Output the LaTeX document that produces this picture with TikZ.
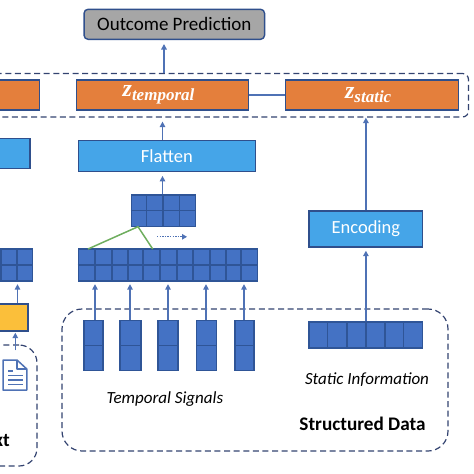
\documentclass[tikz,border=0pt]{standalone}
\usepackage{fontspec}
\setmainfont{Carlito}
\newfontfamily\zfont{Liberation Serif}
\usetikzlibrary{arrows.meta}
\definecolor{edge}{HTML}{2F4F8C}
\definecolor{cell}{HTML}{4472C4}
\definecolor{dcell}{HTML}{2F5597}
\definecolor{lblue}{HTML}{45A5E8}
\definecolor{orng}{HTML}{E47F3C}
\definecolor{yel}{HTML}{FBBF3A}
\definecolor{gry}{HTML}{A6A6A6}
\definecolor{dashc}{HTML}{334370}
\definecolor{arr}{HTML}{4F72B5}
\definecolor{grn}{HTML}{6FAE5F}
\newcommand{\zlabel}[2]{\raisebox{-2.5pt}{\zfont\bfseries\itshape\fontsize{24}{26}\selectfont #1\raisebox{-3.5pt}{\fontsize{17}{19}\selectfont #2}}}
\tikzset{x=1pt,y=-1pt,
 panel/.style={draw=edge,line width=1.4pt,inner sep=0pt},
 cellbox/.style={draw=dcell,fill=cell,line width=1.3pt,inner sep=0pt},
 gridline/.style={draw=dcell,line width=1.3pt},
 flow/.style={draw=arr,line width=1.4pt,-{Triangle[length=5.5pt,width=5.5pt]}},
 dashbox/.style={draw=dashc,line width=1.2pt,dash pattern=on 6pt off 3.6pt,inner sep=0pt},
 bigtext/.style={text=white,font=\fontsize{18.5}{22}\selectfont},
 caption/.style={font=\itshape\fontsize{17}{20}\selectfont,text=black,inner sep=0pt},
 heading/.style={font=\bfseries\fontsize{19.2}{22}\selectfont,text=black,inner sep=0pt},
}
\begin{document}
\begin{tikzpicture}
\useasboundingbox (0,0) rectangle (474,474);
% dashed containers
\node[dashbox,rounded corners=6pt,minimum width=481pt,minimum height=43.5pt] (zgroup) at (-12.5,95.25) [xshift=240.5pt] {};
\node[dashbox,rounded corners=20pt,minimum width=386pt,minimum height=142pt] (structured) at (255,380) {};
\node[dashbox,rounded corners=18pt,minimum width=100pt,minimum height=121pt] (textgroup) at (-13,405.5) {};
% boxes
\node[panel,fill=gry,rounded corners=4pt,minimum width=180.5pt,minimum height=30pt,font=\fontsize{19}{22}\selectfont] (outcome) at (174.3,24.3) {Outcome Prediction};
\node[panel,fill=orng,minimum width=60pt,minimum height=30pt] (zleft) at (9.3,95) {};
\node[panel,fill=orng,minimum width=171.5pt,minimum height=30pt,text=white] (ztemp) at (162.5,95) {\zlabel{z}{temporal}\hspace*{8pt}};
\node[panel,fill=orng,minimum width=173pt,minimum height=30pt,text=white] (zstat) at (372.2,95) {\zlabel{z}{static}\hspace*{8pt}};
\node[panel,fill=lblue,minimum width=60pt,minimum height=30pt] (leftblue) at (0,153.2) {};
\node[panel,fill=lblue,minimum width=177pt,minimum height=31.4pt,bigtext] (flatten) at (166.8,156) {Flatten};
\node[panel,fill=lblue,minimum width=113.7pt,minimum height=36pt,bigtext] (encoding) at (365.9,229) {Encoding};
\node[panel,fill=yel,minimum width=60pt,minimum height=27pt] (yellowbox) at (-2,317.5) {};
% small grid
\node[cellbox,minimum width=64.4pt,minimum height=31.7pt] (small) at (163.5,210.8) {};
\foreach \x in {146.7,163,179.7} \draw[gridline] (\x,195) -- (\x,226.7);
\draw[gridline] (small.west) -- (small.east);
% wide grid
\node[cellbox,minimum width=179.4pt,minimum height=32pt] (wide) at (168,265) {};
\foreach \x in {95,112,128,143,160,177,193,210,226,241} \draw[gridline] (\x,249) -- (\x,281);
\draw[gridline] (wide.west) -- (wide.east);
% left grid
\node[cellbox,minimum width=60pt,minimum height=32pt] (lgrid) at (2.3,265) {};
\foreach \x in {1,17} \draw[gridline] (\x,249) -- (\x,281);
\draw[gridline] (lgrid.west) -- (lgrid.east);
% temporal signals
\foreach \n/\x/\w in {a/93.5/19,b/130.5/21,c/168/20,d/206.5/19.5,e/244.5/19}{
 \node[cellbox,minimum width=\w pt,minimum height=50pt] (sig\n) at (\x,345.3) {};
 \draw[gridline] (sig\n.west) -- (sig\n.east);
}
% static
\node[cellbox,minimum width=113.7pt,minimum height=26pt] (statinfo) at (365.9,335) {};
\foreach \x in {327.7,347,366,385,403.7} \draw[gridline] (\x,322) -- (\x,348);
% document icon
\node[minimum width=24pt,minimum height=30pt,inner sep=0pt] (doc) at (15,375) {};
\draw[draw=arr,fill=white,line width=1.5pt,line join=round] (3,360) -- (17,360) -- (26.8,369) -- (26.8,390) -- (3,390) -- cycle;
\draw[draw=arr,line width=1.2pt,line join=round] (17,360) -- (17,369) -- (26.8,369);
\foreach \y/\a/\b in {371/8/13,375.5/8/22.5,380/8/22.5,384.5/8/22.5} \draw[arr,line width=1.2pt] (\a,\y) -- (\b,\y);
% texts
\node[caption] (tempcap) at (165,399) {Temporal Signals};
\node[caption] (statcap) at (367,380) {Static Information};
\node[heading] (structcap) at (362.5,424) {Structured Data};
\node[heading,anchor=east] (textcap) at (10,441) {xt};
% green lines
\coordinate (gtop) at (138,226.7);
\coordinate (gleft) at (88,249);
\coordinate (gright) at (152.7,249);
\draw[grn,line width=1.5pt] (gleft) -- (gtop) -- (gright);
% dotted arrow
\coordinate (dotstart) at (157,236.8);
\coordinate (dotend) at (187,236.8);
\draw[arr,line width=1.2pt,dash pattern=on 1.3pt off 1.3pt,-{Triangle[length=5pt,width=5.5pt]}] (dotstart) -- (dotend);
% connectors
\coordinate (xout) at (164,0);
\coordinate (xflat) at (162.5,0);
\coordinate (xdoc) at (15.3,0);
\coordinate (xleft) at (17.5,0);
\draw[flow,shorten >=4pt] (zgroup.north -| xout) -- (outcome.south -| xout);
\draw[flow,shorten >=4pt] (flatten.north -| xflat) -- (zgroup.south -| xflat);
\draw[flow,shorten >=3.5pt] (small.north -| xflat) -- (flatten.south -| xflat);
\draw[draw=arr,line width=1.3pt] (ztemp.east) -- (zstat.west);
\draw[flow] (encoding.north) -- (zgroup.south -| encoding.north);
\draw[flow,shorten >=3pt] (statinfo.north) -- (encoding.south);
\coordinate (xa) at (95,0);
\coordinate (xb) at (130,0);
\coordinate (xc) at (168,0);
\coordinate (xd) at (206,0);
\coordinate (xe) at (244,0);
\foreach \n in {a,b,c,d,e} \draw[flow,shorten >=2.5pt] (sig\n.north -| x\n) -- (wide.south -| x\n);
\draw[flow,shorten >=2.5pt] (yellowbox.north -| xleft) -- (lgrid.south -| xleft);
\draw[flow,shorten >=1pt] (textgroup.north -| xdoc) ++(0,6) -- (yellowbox.south -| xdoc);
\end{tikzpicture}
\end{document}
